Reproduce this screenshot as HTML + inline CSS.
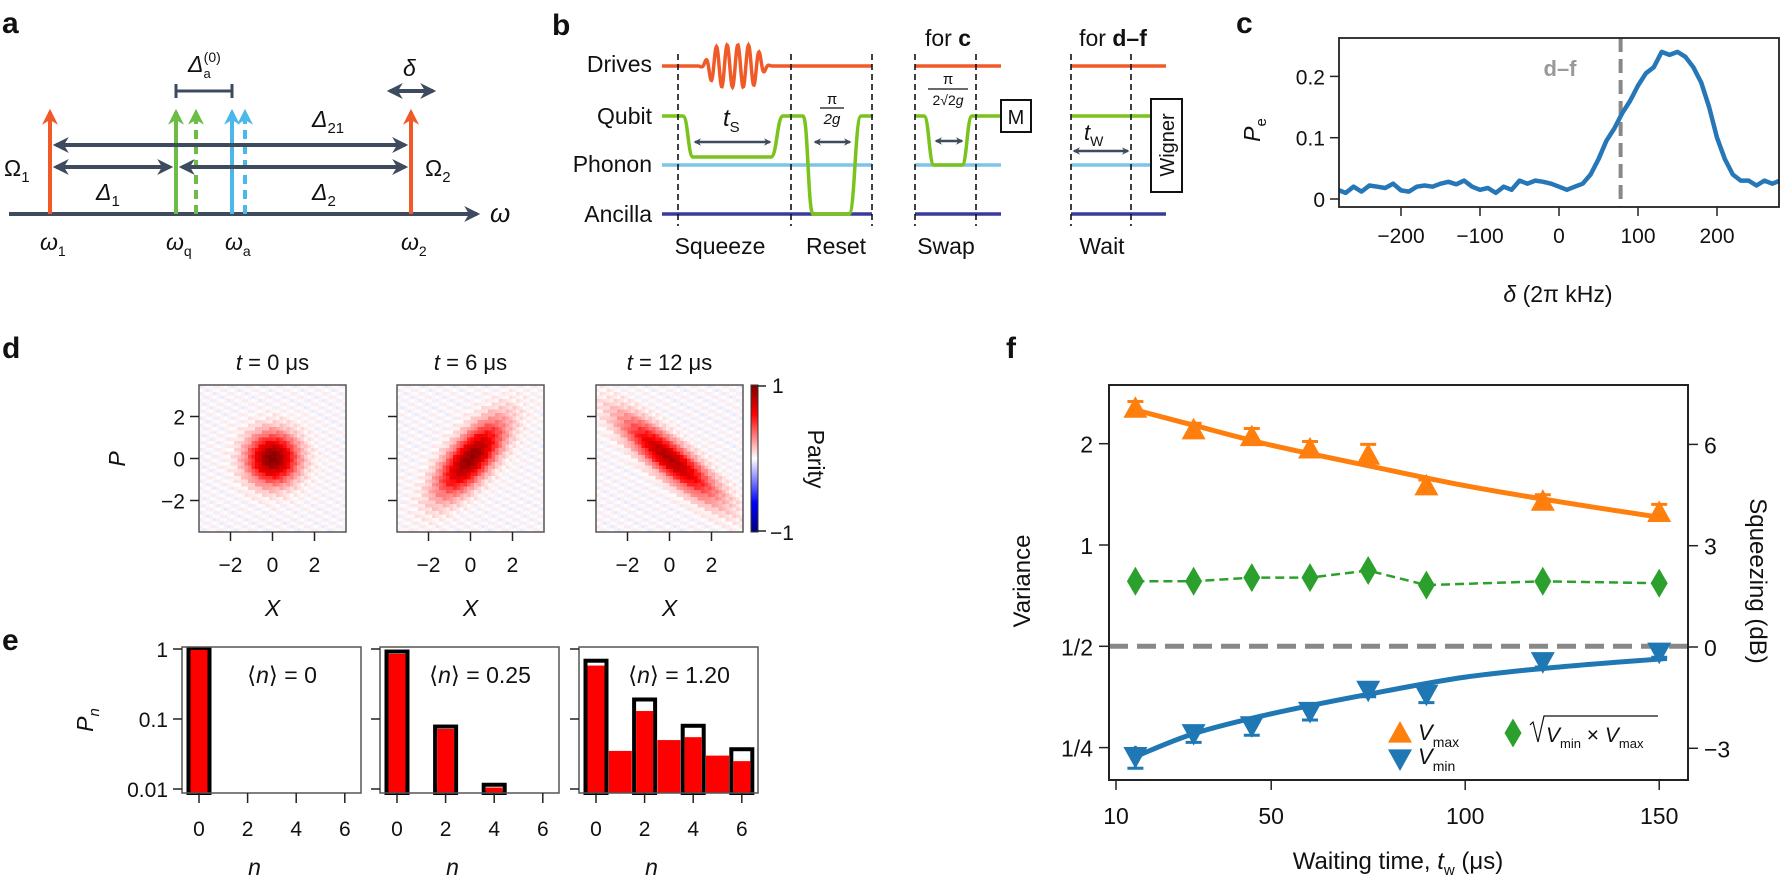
<!DOCTYPE html>
<html><head><meta charset="utf-8"><style>
html,body{margin:0;padding:0;background:#fff;}
svg{display:block;font-family:"Liberation Sans",sans-serif;}
text{fill:#111;}
.lbl{font-weight:bold;font-size:30px;}
.t20{font-size:21px;}
.t22{font-size:23px;}
</style></head><body>
<svg id="fig" width="1780" height="885" viewBox="0 0 1780 885" xmlns="http://www.w3.org/2000/svg">
<defs>
<marker id="ahN" viewBox="0 0 10 10" refX="8" refY="5" markerWidth="4" markerHeight="4" orient="auto-start-reverse"><path d="M0,0 L10,5 L0,10 L3,5 z" fill="#3e4b5e"/></marker>
<marker id="ahR" viewBox="0 0 10 10" refX="8" refY="5" markerWidth="4" markerHeight="4" orient="auto"><path d="M0,0 L10,5 L0,10 L3,5 z" fill="#f05a28"/></marker>
<marker id="ahG" viewBox="0 0 10 10" refX="8" refY="5" markerWidth="4" markerHeight="4" orient="auto"><path d="M0,0 L10,5 L0,10 L3,5 z" fill="#6cbd45"/></marker>
<marker id="ahB" viewBox="0 0 10 10" refX="8" refY="5" markerWidth="4" markerHeight="4" orient="auto"><path d="M0,0 L10,5 L0,10 L3,5 z" fill="#4cb8ea"/></marker>
<marker id="ahS" viewBox="0 0 10 10" refX="8" refY="5" markerWidth="3" markerHeight="3" orient="auto-start-reverse"><path d="M0,0 L10,5 L0,10 L3,5 z" fill="#3e4b5e"/></marker>
</defs>

<!-- Panel a -->
<g>
<text class="lbl" x="2" y="33">a</text>
<line x1="9" y1="214" x2="477" y2="214" stroke="#3e4b5e" stroke-width="4" marker-end="url(#ahN)"/>
<text x="490" y="222" font-size="26" font-style="italic">ω</text>
<line x1="50" y1="214" x2="50" y2="112" stroke="#f05a28" stroke-width="4" marker-end="url(#ahR)"/>
<line x1="411" y1="214" x2="411" y2="112" stroke="#f05a28" stroke-width="4" marker-end="url(#ahR)"/>
<line x1="176" y1="214" x2="176" y2="112" stroke="#6cbd45" stroke-width="4" marker-end="url(#ahG)"/>
<line x1="196" y1="214" x2="196" y2="112" stroke="#6cbd45" stroke-width="4" stroke-dasharray="9 6" marker-end="url(#ahG)"/>
<line x1="232" y1="214" x2="232" y2="112" stroke="#4cb8ea" stroke-width="4" marker-end="url(#ahB)"/>
<line x1="245" y1="214" x2="245" y2="112" stroke="#4cb8ea" stroke-width="4" stroke-dasharray="9 6" marker-end="url(#ahB)"/>
<line x1="56" y1="145" x2="405" y2="145" stroke="#3e4b5e" stroke-width="4" marker-start="url(#ahN)" marker-end="url(#ahN)"/>
<line x1="56" y1="167" x2="170" y2="167" stroke="#3e4b5e" stroke-width="4" marker-start="url(#ahN)" marker-end="url(#ahN)"/>
<line x1="182" y1="167" x2="405" y2="167" stroke="#3e4b5e" stroke-width="4" marker-start="url(#ahN)" marker-end="url(#ahN)"/>
<path d="M176,84 V98 M176,91 H232 M232,84 V98" stroke="#3e4b5e" stroke-width="3" fill="none"/>
<line x1="390" y1="91" x2="433" y2="91" stroke="#3e4b5e" stroke-width="4" marker-start="url(#ahN)" marker-end="url(#ahN)"/>
<g class="t22" font-style="italic">
<text x="4" y="176" font-style="normal">Ω<tspan font-size="15" dy="6">1</tspan></text>
<text x="425" y="176" font-style="normal">Ω<tspan font-size="15" dy="6">2</tspan></text>
<text x="96" y="200">Δ<tspan font-size="15" dy="6" font-style="normal">1</tspan></text>
<text x="312" y="200">Δ<tspan font-size="15" dy="6" font-style="normal">2</tspan></text>
<text x="312" y="127">Δ<tspan font-size="15" dy="6" font-style="normal">21</tspan></text>
<text x="188" y="72">Δ<tspan font-size="13" dy="6" font-style="normal">a</tspan><tspan font-size="14" dx="-7" dy="-16" font-style="normal">(0)</tspan></text>
<text x="403" y="76">δ</text>
<text x="40" y="250">ω<tspan font-size="14" dy="6" font-style="normal">1</tspan></text>
<text x="166" y="250">ω<tspan font-size="14" dy="6" font-style="normal">q</tspan></text>
<text x="225" y="250">ω<tspan font-size="14" dy="6" font-style="normal">a</tspan></text>
<text x="401" y="250">ω<tspan font-size="14" dy="6" font-style="normal">2</tspan></text>
</g>
</g>

<!-- Panel b -->
<g>
<text class="lbl" x="552" y="35">b</text>
<g class="t22" text-anchor="end">
<text x="652" y="72">Drives</text>
<text x="652" y="124">Qubit</text>
<text x="652" y="172">Phonon</text>
<text x="652" y="222">Ancilla</text>
</g>
<g stroke-width="3.5" fill="none">
<path id="drivePath" stroke="#f05a28"/>
<line x1="662" y1="165" x2="872" y2="165" stroke="#7cc4e8"/>
<line x1="662" y1="214" x2="872" y2="214" stroke="#3a3a9a"/>
<path d="M662,116 H683 C688,116 688,157 693,157 H771 C777,157 777,116 783,116 H803 C808,116 808,214 813,214 H849 C855,214 855,116 861,116 H873" stroke="#7ac21c"/>
<line x1="915" y1="66" x2="1001" y2="66" stroke="#f05a28"/>
<line x1="915" y1="165" x2="1001" y2="165" stroke="#7cc4e8"/>
<line x1="915" y1="214" x2="1001" y2="214" stroke="#3a3a9a"/>
<path d="M915,116 H924 C929,116 929,165 934,165 H962 C967,165 967,116 972,116 H1001" stroke="#7ac21c"/>
<line x1="1071" y1="66" x2="1166" y2="66" stroke="#f05a28"/>
<line x1="1071" y1="116" x2="1151" y2="116" stroke="#7ac21c"/>
<line x1="1071" y1="165" x2="1151" y2="165" stroke="#7cc4e8"/>
<line x1="1071" y1="214" x2="1166" y2="214" stroke="#3a3a9a"/>
</g>
<g stroke="#111" stroke-width="1.6" stroke-dasharray="6 4">
<line x1="678" y1="54" x2="678" y2="226"/>
<line x1="791" y1="54" x2="791" y2="226"/>
<line x1="872" y1="54" x2="872" y2="226"/>
<line x1="915" y1="54" x2="915" y2="226"/>
<line x1="976" y1="54" x2="976" y2="226"/>
<line x1="1071" y1="54" x2="1071" y2="226"/>
<line x1="1131" y1="54" x2="1131" y2="226"/>
</g>
<line x1="695" y1="142" x2="770" y2="142" stroke="#3e4b5e" stroke-width="2.5" marker-start="url(#ahS)" marker-end="url(#ahS)"/>
<line x1="815" y1="142" x2="850" y2="142" stroke="#3e4b5e" stroke-width="2.5" marker-start="url(#ahS)" marker-end="url(#ahS)"/>
<line x1="936" y1="141" x2="962" y2="141" stroke="#3e4b5e" stroke-width="2.5" marker-start="url(#ahS)" marker-end="url(#ahS)"/>
<line x1="1074" y1="151" x2="1128" y2="151" stroke="#3e4b5e" stroke-width="2.5" marker-start="url(#ahS)" marker-end="url(#ahS)"/>
<text x="723" y="126" font-size="24" font-style="italic">t<tspan font-size="15" dy="6" font-style="normal">S</tspan></text>
<g font-size="15" text-anchor="middle">
<text x="832" y="104">π</text>
<line x1="820" y1="108" x2="844" y2="108" stroke="#111" stroke-width="1.3"/>
<text x="832" y="124" font-style="italic">2g</text>
<text x="948" y="84">π</text>
<line x1="928" y1="89" x2="968" y2="89" stroke="#111" stroke-width="1.3"/>
<text x="948" y="105" font-size="14">2√2<tspan font-style="italic">g</tspan></text>
</g>
<text x="1084" y="140" font-size="22" font-style="italic">t<tspan font-size="14" dy="6" font-style="normal">W</tspan></text>
<rect x="1001" y="100" width="30" height="32" fill="#fff" stroke="#111" stroke-width="2"/>
<text x="1016" y="124" font-size="20" text-anchor="middle">M</text>
<rect x="1151" y="99" width="31" height="93" fill="#fff" stroke="#111" stroke-width="2"/>
<text transform="translate(1174,145) rotate(-90)" font-size="20" text-anchor="middle">Wigner</text>
<g class="t22" text-anchor="middle">
<text x="720" y="254">Squeeze</text>
<text x="836" y="254">Reset</text>
<text x="946" y="254">Swap</text>
<text x="1102" y="254">Wait</text>
<text x="948" y="46">for <tspan font-weight="bold">c</tspan></text>
<text x="1113" y="46">for <tspan font-weight="bold">d–f</tspan></text>
</g>
</g>

<!-- Panel c -->
<g id="panelC">
<text class="lbl" x="1236" y="33">c</text>
</g>

<!-- Panel d -->
<g id="panelD">
<text class="lbl" x="2" y="358">d</text>
</g>

<!-- Panel e -->
<g id="panelE">
<text class="lbl" x="2" y="650">e</text>
</g>

<!-- Panel f -->
<g id="panelF">
<text class="lbl" x="1006" y="358">f</text>
</g>
</svg>

<script>
// ---------- Panel c data ----------
const cDetuning = [-280,-270,-260,-250,-240,-230,-220,-210,-200,-190,-180,-170,-160,-150,-140,-130,-120,-110,-100,-90,-80,-70,-60,-50,-40,-30,-20,-10,0,10,20,30,40,50,60,70,80,90,100,110,120,130,140,150,160,170,180,190,200,210,220,230,240,250,260,270,280];
const cPe = [0.015,0.01,0.02,0.012,0.022,0.02,0.018,0.025,0.014,0.012,0.02,0.022,0.02,0.025,0.028,0.024,0.03,0.02,0.015,0.018,0.01,0.02,0.015,0.03,0.025,0.03,0.028,0.025,0.02,0.015,0.02,0.025,0.04,0.065,0.095,0.115,0.14,0.16,0.185,0.205,0.215,0.24,0.235,0.24,0.232,0.215,0.19,0.15,0.1,0.065,0.04,0.03,0.03,0.022,0.03,0.025,0.03];
const cXTicks = [-200,-100,0,100,200];
const cXTickLabels = ["−200","−100","0","100","200"];
const cYTicks = [0,0.1,0.2];
const cYTickLabels = ["0","0.1","0.2"];
const cMarker = [78];

// ---------- Panel d data ----------
const dTimes = ["0","6","12"];
const dSigMajor = [0.8,1.45,1.9];
const dSigMinor = [0.8,0.6,0.5];
const dAngleDeg = [0,50,-40];
const dPeak = [1.0,0.95,0.85];
const dTicks = [-2,0,2];
const dTickLabels = ["−2","0","2"];

// ---------- Panel e data ----------
const eMeanN = ["0","0.25","1.20"];
const eN = [0,1,2,3,4,5,6];
const eMeasured = [
 [0.97,0,0,0,0,0,0],
 [0.85,0,0.072,0,0.0105,0,0],
 [0.58,0.035,0.13,0.05,0.055,0.03,0.025]];
const eIdeal = [
 [1.0,0,0,0,0,0,0],
 [0.92,0,0.078,0,0.0115,0,0],
 [0.68,0,0.19,0,0.08,0,0.037]];
const eYTicks = [1,0.1,0.01];
const eYTickLabels = ["1","0.1","0.01"];
const eXTicks = [0,2,4,6];

// ---------- Panel f data ----------
const fT = [15,30,45,60,75,90,120,150];
const fVmax = [2.55,2.2,2.1,1.93,1.85,1.5,1.35,1.25];
const fVmaxErr = [0.12,0.1,0.12,0.1,0.14,0.06,0.06,0.07];
const fVmin = [0.235,0.275,0.29,0.32,0.37,0.36,0.45,0.48];
const fVminErr = [0.018,0.016,0.018,0.018,0.016,0.02,0.016,0.016];
const fGeo = [0.78,0.78,0.80,0.80,0.84,0.76,0.78,0.77];
const fFitT = [15,30,50,75,100,125,152];
const fFitVmax = [2.52,2.27,1.98,1.72,1.5,1.34,1.2];
const fFitVmin = [0.235,0.275,0.315,0.36,0.405,0.435,0.46];
const fXTicks = [10,50,100,150];
const fYTicks = [2,1,0.5,0.25];
const fYTickLabels = ["2","1","1/2","1/4"];
const fDbTicks = [6,3,0,-3];
const fDbTickLabels = ["6","3","0","−3"];

const NS = "http://www.w3.org/2000/svg";
function mk(parent, tag, attrs, txt){
  const e = document.createElementNS(NS, tag);
  for (const k in attrs) e.setAttribute(k, attrs[k]);
  if (txt !== undefined) e.textContent = txt;
  parent.appendChild(e);
  return e;
}

// ---------- drive pulse drawing ----------
(function(){
  let d = "";
  for (let x = 662; x <= 872; x += 0.5) {
    const env = Math.exp(-Math.pow((x - 735) / 28, 6));
    const y = 66 + 21 * env * Math.sin((x - 687) / 10.7 * 2 * Math.PI);
    d += (x === 662 ? "M" : "L") + x.toFixed(1) + "," + y.toFixed(2);
  }
  document.getElementById("drivePath").setAttribute("d", d);
})();

// ---------- Panel c ----------
(function(){
  const g = document.getElementById("panelC");
  const L = 1339, R = 1779, T = 38, B = 207;
  const xs = v => 1559 + v * 0.79;
  const ys = v => 199 - v * 613;
  const clip = mk(g, "clipPath", {id: "clipC"});
  mk(clip, "rect", {x: L, y: T, width: R - L, height: B - T});
  const ml = mk(g, "line", {x1: xs(cMarker[0]), x2: xs(cMarker[0]), y1: T, y2: B, stroke: "#888", "stroke-width": 4, "stroke-dasharray": "14 7"});
  
  
  const mt = mk(g, "text", {x: 1560, y: 76, "font-size": 22, "font-weight": "bold", "text-anchor": "middle", style: "fill:#999"}, "d–f");
  
  
  let d = "";
  cDetuning.forEach((v, i) => { d += (i ? "L" : "M") + xs(v).toFixed(1) + "," + ys(cPe[i]).toFixed(1); });
  const p = mk(g, "path", {d: d, fill: "none", stroke: "#2677b8", "stroke-width": 4.5, "stroke-linejoin": "round", "clip-path": "url(#clipC)"});
  
  
  const box = mk(g, "rect", {x: L, y: T, width: R - L, height: B - T, fill: "none", stroke: "#222", "stroke-width": 1.8});
  
  
  cXTicks.forEach((v, i) => {
    mk(g, "line", {x1: xs(v), x2: xs(v), y1: B, y2: B + 9, stroke: "#222", "stroke-width": 1.5});
    const t = mk(g, "text", {x: xs(v), y: B + 36, "font-size": 21, "text-anchor": "middle"}, cXTickLabels[i]);
    
    
  });
  cYTicks.forEach((v, i) => {
    mk(g, "line", {x1: L - 9, x2: L, y1: ys(v), y2: ys(v), stroke: "#222", "stroke-width": 1.5});
    const t = mk(g, "text", {x: L - 14, y: ys(v) + 8, "font-size": 21, "text-anchor": "end"}, cYTickLabels[i]);
    
    
  });
  const xt = mk(g, "text", {x: 1558, y: 302, "font-size": 23, "text-anchor": "middle"});
  xt.innerHTML = '<tspan font-style="italic">δ</tspan> (2π kHz)';
  
  
  const yt = mk(g, "text", {transform: "translate(1260,130) rotate(-90)", "font-size": 23, "text-anchor": "middle"});
  yt.innerHTML = '<tspan font-style="italic">P</tspan><tspan font-size="15" dy="6">e</tspan>';
  
  
})();

// ---------- Panel d ----------
(function(){
  const g = document.getElementById("panelD");
  const lefts = [199, 397, 596];
  const T = 385, S = 147, N = 42, ext = 3.5;
  function color(v){
    if (v >= 0) {
      if (v < 0.6) { const a = v / 0.6; return "rgb(255," + Math.round(255 * (1 - a)) + "," + Math.round(255 * (1 - a)) + ")"; }
      const a = (v - 0.6) / 0.4; return "rgb(" + Math.round(255 - 120 * a) + ",0,0)";
    }
    const a = Math.min(1, -v / 0.6); return "rgb(" + Math.round(255 * (1 - a)) + "," + Math.round(255 * (1 - a)) + ",255)";
  }
  dTimes.forEach((tm, k) => {
    const L = lefts[k];
    const th = dAngleDeg[k] * Math.PI / 180;
    const cs = Math.cos(th), sn = Math.sin(th);
    const cell = S / N;
    const hm = mk(g, "g", {});
    
    
    for (let i = 0; i < N; i++) for (let j = 0; j < N; j++) {
      const X = -ext + (i + 0.5) * 2 * ext / N;
      const P = ext - (j + 0.5) * 2 * ext / N;
      const u = X * cs + P * sn, w = -X * sn + P * cs;
      let v = dPeak[k] * Math.exp(-0.5 * (u * u / (dSigMajor[k] * dSigMajor[k]) + w * w / (dSigMinor[k] * dSigMinor[k])));
      v += ((i * 7 + j * 13 + k * 5) % 9 - 4) * 0.012;
      mk(hm, "rect", {x: (L + i * cell).toFixed(2), y: (T + j * cell).toFixed(2), width: (cell + 0.3).toFixed(2), height: (cell + 0.3).toFixed(2), fill: color(v)});
    }
    const fr = mk(g, "rect", {x: L, y: T, width: S, height: S, fill: "none", stroke: "#555", "stroke-width": 1.5});
    
    
    const ttl = mk(g, "text", {x: L + S / 2, y: 370, "font-size": 22, "text-anchor": "middle"});
    ttl.innerHTML = '<tspan font-style="italic">t</tspan> = ' + tm + ' μs';
    
    
    const sc = S / (2 * ext);
    dTicks.forEach((v, i) => {
      const x = L + S / 2 + v * sc;
      mk(g, "line", {x1: x, x2: x, y1: T + S, y2: T + S + 9, stroke: "#222", "stroke-width": 1.5});
      const t = mk(g, "text", {x: x, y: 572, "font-size": 21, "text-anchor": "middle"}, dTickLabels[i]);
      
      
      const y = T + S / 2 - v * sc;
      mk(g, "line", {x1: L - 9, x2: L, y1: y, y2: y, stroke: "#222", "stroke-width": 1.5});
      if (k === 0) {
        const ty = mk(g, "text", {x: L - 14, y: y + 8, "font-size": 21, "text-anchor": "end"}, dTickLabels[i]);
        
        
      }
    });
    const xl = mk(g, "text", {x: L + S / 2, y: 616, "font-size": 23, "font-style": "italic", "text-anchor": "middle"}, "X");
    
    
  });
  const pl = mk(g, "text", {transform: "translate(125,459) rotate(-90)", "font-size": 23, "font-style": "italic", "text-anchor": "middle"}, "P");
  
  
  // colorbar
  const grad = mk(g, "linearGradient", {id: "cbGrad", x1: 0, y1: 0, x2: 0, y2: 1});
  [[0, "#800000"], [0.2, "#ff0000"], [0.5, "#ffffff"], [0.8, "#0000ff"], [1, "#000080"]].forEach(s => mk(grad, "stop", {offset: s[0], "stop-color": s[1]}));
  const cb = mk(g, "rect", {x: 751, y: 385, width: 7, height: 147, fill: "url(#cbGrad)", stroke: "#333", "stroke-width": 1});
  
  
  mk(g, "line", {x1: 758, x2: 766, y1: 386, y2: 386, stroke: "#222", "stroke-width": 1.5});
  mk(g, "line", {x1: 758, x2: 766, y1: 531, y2: 531, stroke: "#222", "stroke-width": 1.5});
  const c1 = mk(g, "text", {x: 772, y: 393, "font-size": 21}, "1");
  
  
  const c2 = mk(g, "text", {x: 770, y: 540, "font-size": 21}, "−1");
  
  
  const par = mk(g, "text", {transform: "translate(808,459) rotate(90)", "font-size": 23, "text-anchor": "middle"}, "Parity");
  
  
})();

// ---------- Panel e ----------
(function(){
  const g = document.getElementById("panelE");
  const lefts = [182, 380, 579];
  const T = 647, B = 793, W = 179;
  const ys = p => 649 - Math.log10(p) * 70;
  eMeanN.forEach((mn, k) => {
    const L = lefts[k];
    const xs = n => L + 17 + n * 24.3;
    eN.forEach((n, i) => {
      const id = eIdeal[k][i];
      if (id > 0) {
        const ob = mk(g, "rect", {x: xs(n) - 10.5, y: ys(id), width: 21, height: B - ys(id), fill: "#fff", stroke: "#000", "stroke-width": 4});
        
        
      }
      const m = eMeasured[k][i];
      if (m > 0) {
        const inset = id > 0 ? 2 : -1;
        const rb = mk(g, "rect", {x: xs(n) - 10.5 + inset, y: ys(m), width: 21 - 2 * inset, height: B - ys(m), fill: "#ff0000"});
        
        
      }
    });
    const fr = mk(g, "rect", {x: L, y: T, width: W, height: B - T, fill: "none", stroke: "#555", "stroke-width": 1.5});
    
    
    eXTicks.forEach(n => {
      mk(g, "line", {x1: xs(n), x2: xs(n), y1: B, y2: B + 10, stroke: "#222", "stroke-width": 1.5});
      const t = mk(g, "text", {x: xs(n), y: 836, "font-size": 21, "text-anchor": "middle"}, String(n));
      
      
    });
    eYTicks.forEach((v, i) => {
      mk(g, "line", {x1: L - 9, x2: L, y1: ys(v), y2: ys(v), stroke: "#222", "stroke-width": 1.5});
      if (k === 0) {
        const t = mk(g, "text", {x: L - 14, y: ys(v) + 8, "font-size": 21, "text-anchor": "end"}, eYTickLabels[i]);
        
        
      }
    });
    const ann = mk(g, "text", {x: L + 100, y: 683, "font-size": 23, "text-anchor": "middle"});
    ann.innerHTML = '⟨<tspan font-style="italic">n</tspan>⟩ = ' + mn;
    
    
    const xl = mk(g, "text", {x: L + W / 2 - 17, y: 875, "font-size": 23, "font-style": "italic", "text-anchor": "middle"}, "n");
    
    
  });
  const pl = mk(g, "text", {transform: "translate(93,720) rotate(-90)", "font-size": 23, "text-anchor": "middle"});
  pl.innerHTML = '<tspan font-style="italic">P</tspan><tspan font-size="15" dy="6" font-style="italic">n</tspan>';
  
  
})();

// ---------- Panel f ----------
(function(){
  const g = document.getElementById("panelF");
  const L = 1109, R = 1688, T = 385, B = 780;
  const xs = t => 1116 + (t - 10) * 3.88;
  const ys = v => 545 - 101.3 * Math.log2(v);
  const ysDb = db => 647 - db / 3 * 101.3;
  const hl = mk(g, "line", {x1: L, x2: R, y1: ys(0.5), y2: ys(0.5), stroke: "#888", "stroke-width": 5, "stroke-dasharray": "19 9"});
  
  
  function pathOf(X, Y){ let d = ""; X.forEach((t, i) => { d += (i ? "L" : "M") + xs(t).toFixed(1) + "," + ys(Y[i]).toFixed(1); }); return d; }
  function smooth(X, Y){
    const pts = X.map((t, i) => [xs(t), ys(Y[i])]);
    let d = "M" + pts[0][0] + "," + pts[0][1];
    for (let i = 0; i < pts.length - 1; i++) {
      const p0 = pts[Math.max(0, i - 1)], p1 = pts[i], p2 = pts[i + 1], p3 = pts[Math.min(pts.length - 1, i + 2)];
      const c1x = p1[0] + (p2[0] - p0[0]) / 6, c1y = p1[1] + (p2[1] - p0[1]) / 6;
      const c2x = p2[0] - (p3[0] - p1[0]) / 6, c2y = p2[1] - (p3[1] - p1[1]) / 6;
      d += "C" + c1x.toFixed(1) + "," + c1y.toFixed(1) + " " + c2x.toFixed(1) + "," + c2y.toFixed(1) + " " + p2[0].toFixed(1) + "," + p2[1].toFixed(1);
    }
    return d;
  }
  const fmax = mk(g, "path", {d: smooth(fFitT, fFitVmax), fill: "none", stroke: "#ff7f0e", "stroke-width": 5});
  
  
  const fmin = mk(g, "path", {d: smooth(fFitT, fFitVmin), fill: "none", stroke: "#1f77b4", "stroke-width": 5});
  
  
  const gl = mk(g, "path", {d: pathOf(fT, fGeo), fill: "none", stroke: "#2ca02c", "stroke-width": 2.5, "stroke-dasharray": "9 5"});
  
  
  function triUp(x, y, s){ return "M" + x + "," + (y - s) + "L" + (x + s) + "," + (y + s * 0.8) + "L" + (x - s) + "," + (y + s * 0.8) + "Z"; }
  function triDn(x, y, s){ return "M" + x + "," + (y + s) + "L" + (x + s) + "," + (y - s * 0.8) + "L" + (x - s) + "," + (y - s * 0.8) + "Z"; }
  function dia(x, y, s){ return "M" + x + "," + (y - s * 1.45) + "L" + (x + s * 0.85) + "," + y + "L" + x + "," + (y + s * 1.45) + "L" + (x - s * 0.85) + "," + y + "Z"; }
  fT.forEach((t, i) => {
    const x = xs(t);
    // Vmax error bar
    const y1 = ys(fVmax[i] + fVmaxErr[i]), y0 = ys(fVmax[i] - fVmaxErr[i]);
    mk(g, "path", {d: "M" + x + "," + y0 + "V" + y1 + "M" + (x - 8) + "," + y1 + "H" + (x + 8), stroke: "#ff7f0e", "stroke-width": 3});
    const m1 = mk(g, "path", {d: triUp(x, ys(fVmax[i]), 12), fill: "#ff7f0e"});
    
    
    const z1 = ys(fVmin[i] + fVminErr[i]), z0 = ys(fVmin[i] - fVminErr[i]);
    mk(g, "path", {d: "M" + x + "," + z1 + "V" + z0 + "M" + (x - 8) + "," + z0 + "H" + (x + 8), stroke: "#1f77b4", "stroke-width": 3});
    const m2 = mk(g, "path", {d: triDn(x, ys(fVmin[i]), 12), fill: "#1f77b4"});
    
    
    const m3 = mk(g, "path", {d: dia(x, ys(fGeo[i]), 10), fill: "#2ca02c"});
    
    
  });
  const fr = mk(g, "rect", {x: L, y: T, width: R - L, height: B - T, fill: "none", stroke: "#222", "stroke-width": 2});
  
  
  fXTicks.forEach(t => {
    mk(g, "line", {x1: xs(t), x2: xs(t), y1: B, y2: B + 10, stroke: "#222", "stroke-width": 1.5});
    const tl = mk(g, "text", {x: xs(t), y: 824, "font-size": 23, "text-anchor": "middle"}, String(t));
    
    
  });
  fYTicks.forEach((v, i) => {
    mk(g, "line", {x1: L - 10, x2: L, y1: ys(v), y2: ys(v), stroke: "#222", "stroke-width": 1.5});
    const tl = mk(g, "text", {x: L - 16, y: ys(v) + 9, "font-size": 23, "text-anchor": "end"}, fYTickLabels[i]);
    
    
  });
  fDbTicks.forEach((v, i) => {
    mk(g, "line", {x1: R, x2: R + 10, y1: ysDb(v), y2: ysDb(v), stroke: "#222", "stroke-width": 1.5});
    const tl = mk(g, "text", {x: R + 16, y: ysDb(v) + 9, "font-size": 23}, fDbTickLabels[i]);
    
    
  });
  const xt = mk(g, "text", {x: 1398, y: 869, "font-size": 24, "text-anchor": "middle"});
  xt.innerHTML = 'Waiting time, <tspan font-style="italic">t</tspan><tspan font-size="15" dy="6">w</tspan><tspan dy="-6"> (μs)</tspan>';
  
  
  const yt = mk(g, "text", {transform: "translate(1030,581) rotate(-90)", "font-size": 24, "text-anchor": "middle"}, "Variance");
  
  
  const rt = mk(g, "text", {transform: "translate(1750,581) rotate(90)", "font-size": 24, "text-anchor": "middle"}, "Squeezing (dB)");
  
  
  // legend
  const lg = mk(g, "g", {});
  
  
  const l1 = mk(lg, "path", {d: triUp(1400, 733, 12), fill: "#ff7f0e"});
  
  
  const lt1 = mk(lg, "text", {x: 1418, y: 740, "font-size": 22});
  lt1.innerHTML = '<tspan font-style="italic">V</tspan><tspan font-size="14" dy="7">max</tspan>';
  
  
  const l2 = mk(lg, "path", {d: triDn(1400, 759, 12), fill: "#1f77b4"});
  
  
  const lt2 = mk(lg, "text", {x: 1418, y: 764, "font-size": 22});
  lt2.innerHTML = '<tspan font-style="italic">V</tspan><tspan font-size="14" dy="7">min</tspan>';
  
  
  const l3 = mk(lg, "path", {d: dia(1513, 733, 10), fill: "#2ca02c"});
  
  
  mk(lg, "path", {d: "M1530,725 L1533,722 L1538,742 L1544,716 H1658", fill: "none", stroke: "#111", "stroke-width": 1.2});
  const lt3 = mk(lg, "text", {x: 1546, y: 742, "font-size": 21});
  lt3.innerHTML = '<tspan font-style="italic">V</tspan><tspan font-size="13" dy="6">min</tspan><tspan dy="-6"> × </tspan><tspan font-style="italic">V</tspan><tspan font-size="13" dy="6">max</tspan>';
  
  
})();
</script>
</body></html>
